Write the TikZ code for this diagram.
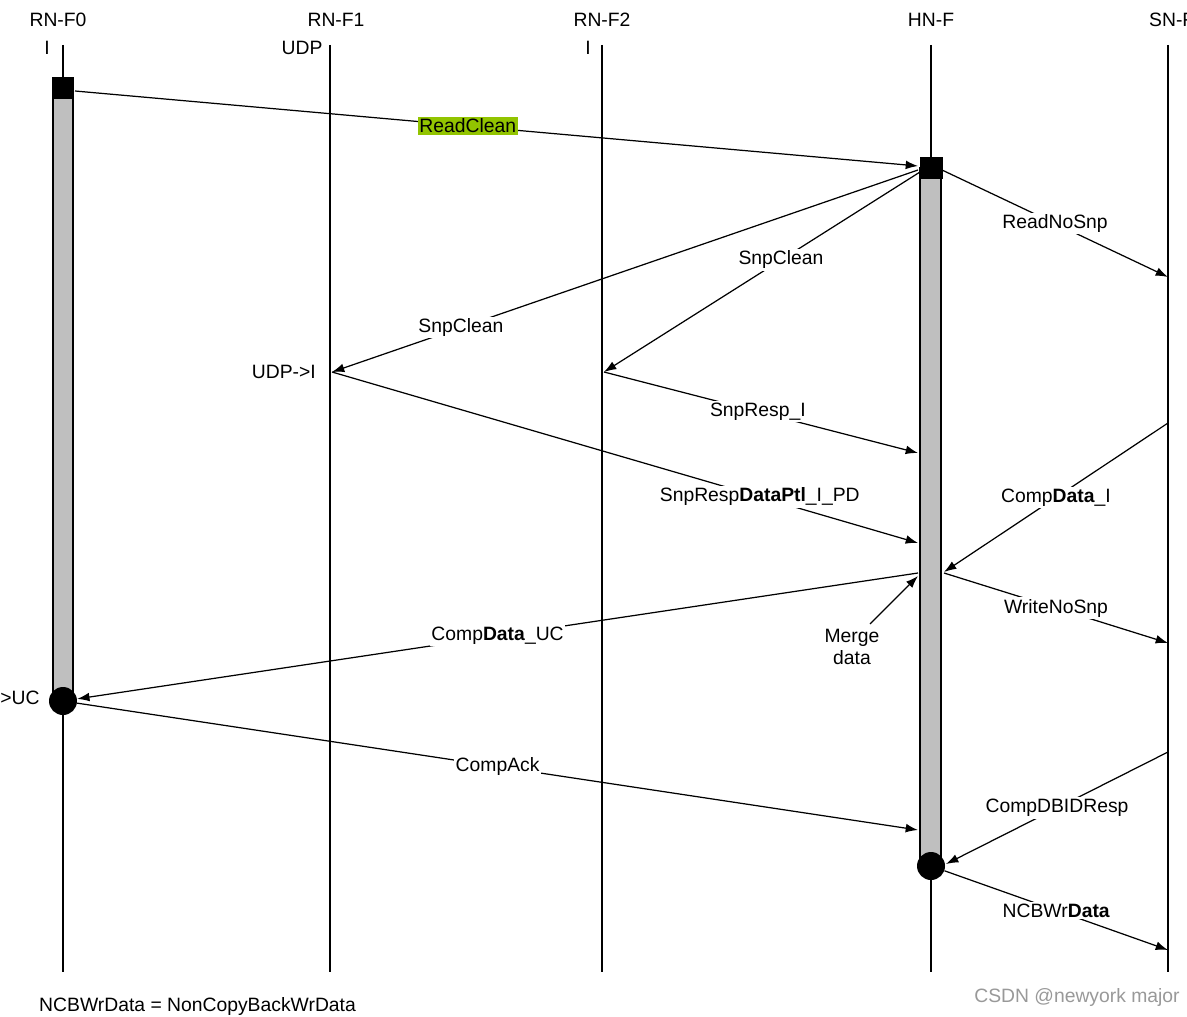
\documentclass[tikz,border=0pt]{standalone}
\usepackage{fontspec}
\setmainfont{Liberation Sans}
\usetikzlibrary{arrows.meta}
\begin{document}
\begin{tikzpicture}[x=0.02cm,y=-0.02cm,font=\fontsize{11}{13}\selectfont,
 life/.style={line width=1.3pt},
 msg/.style={line width=0.7pt,-{Latex[length=7pt,width=5pt]}},
 lbl/.style={fill=white,inner sep=1pt},
 bar/.style={fill=black!25,draw=black,line width=1.3pt}]
\useasboundingbox (0,0) rectangle (1187,1017);
\fill[white] (0,0) rectangle (1187,1017);
% headers
\node (h0) at (58,20) {RN-F0};
\node (h1) at (336,20) {RN-F1};
\node (h2) at (602,20) {RN-F2};
\node (h3) at (931,20) {HN-F};
\node[anchor=west] (h4) at (1143,20) {SN-F};
\node (s0) at (47,48) {I};
\node (s1) at (302,48) {UDP};
\node (s2) at (588,48) {I};
% lifelines
\coordinate (t0) at (63,45); \coordinate (b0) at (63,972);
\coordinate (t1) at (330,45); \coordinate (b1) at (330,972);
\coordinate (t2) at (602,45); \coordinate (b2) at (602,972);
\coordinate (t3) at (931,45); \coordinate (b3) at (931,972);
\coordinate (t4) at (1168,45); \coordinate (b4) at (1168,972);
\foreach \i in {0,...,4} \draw[life] (t\i) -- (b\i);
% bars
\draw[bar] (53,90) rectangle (73,700);
\draw[bar] (920,168) rectangle (941,866);
\node[fill=black,minimum size=0.46cm,inner sep=0] (sq0) at (63,88) {};
\node[fill=black,minimum size=0.46cm,inner sep=0] (sq3) at (931,168) {};
\node[fill=black,circle,minimum size=0.56cm,inner sep=0] (c0) at (63,701) {};
\node[fill=black,circle,minimum size=0.56cm,inner sep=0] (c3) at (931,866) {};
% points
\coordinate (a1) at (918,166);
\coordinate (r1) at (1168,277);
\coordinate (f2) at (604,372);
\coordinate (f1) at (332,372);
\coordinate (h453) at (918,453);
\coordinate (h543) at (918,543);
\coordinate (s423) at (1168,423);
\coordinate (h572) at (944,572);
\coordinate (h573) at (918,573);
\coordinate (s643) at (1168,643);
\coordinate (h830) at (918,830);
\coordinate (s752) at (1168,752);
\coordinate (h864) at (946,864);
\coordinate (s950) at (1168,950);
\coordinate (m0) at (870,624);
\coordinate (m1) at (918,576);
% messages
\draw[msg] (75,91) -- node[pos=0.466,fill={rgb,255:red,146;green,196;blue,0},inner sep=1pt] {ReadClean} (a1);
\draw[msg] (942,170) -- node[lbl,pos=0.5] {ReadNoSnp} (r1);
\draw[msg] (920,172) -- node[lbl,pos=0.44] {SnpClean} (f2);
\draw[msg] (918,170) -- node[lbl,pos=0.78] {SnpClean} (f1);
\node[anchor=east] (udp) at (322,372) {UDP->I};
\draw[msg] (f2) -- node[lbl,pos=0.49] {SnpResp\_I} (h453);
\draw[msg] (f1) -- node[lbl,pos=0.73] {SnpResp\textbf{DataPtl}\_I\_PD} (h543);
\draw[msg] (s423) -- node[lbl,pos=0.5] {Comp\textbf{Data}\_I} (h572);
\draw[msg] (h573) -- node[lbl,pos=0.5] {Comp\textbf{Data}\_UC} (c0);
\draw[msg] (m0) -- (m1);
\node[align=center] (md) at (852,647) {Merge\\data};
\draw[msg] (944,573) -- node[lbl,pos=0.5] {WriteNoSnp} (s643);
\node (uc) at (20,698) {>UC};
\draw[msg] (c0) -- node[lbl,pos=0.5] {CompAck} (h830);
\draw[msg] (s752) -- node[lbl,pos=0.5] {CompDBIDResp} (h864);
\draw[msg] (c3) -- node[lbl,pos=0.5] {NCBWr\textbf{Data}} (s950);
\node[anchor=west] (fn) at (33,1006) {NCBWrData = NonCopyBackWrData};
\node[text=black!40] (wm) at (1077,997) {CSDN @newyork major};
\end{tikzpicture}
\end{document}
